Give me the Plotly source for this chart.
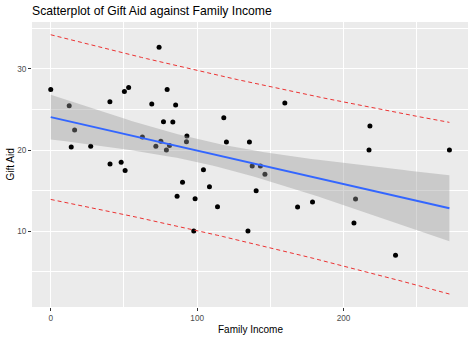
import numpy as np
import plotly.graph_objects as go

# Data (family income in $1000s, gift aid in $1000s)
family_income = [0.0, 12.6, 16.3, 14.0, 27.3, 40.4, 50.3, 53.2, 62.6, 69.0,
                 71.8, 74.0, 75.2, 77.0, 79.5, 79.0, 81.1, 83.4, 85.3, 93.0,
                 92.7, 118.2, 120.0, 135.7, 159.9, 40.5, 48.1, 50.8, 104.3, 137.6,
                 143.2, 146.3, 90.0, 108.4, 140.3, 86.3, 98.6, 113.9, 168.6, 178.8,
                 208.2, 207.1, 235.5, 218.0, 217.4, 272.3, 97.7, 134.7]
gift_aid = [27.47, 25.47, 22.47, 20.37, 20.47, 25.96, 27.22, 27.72, 21.6, 25.68,
            20.47, 32.68, 21.07, 23.5, 27.47, 20.0, 20.56, 23.46, 25.56, 21.72,
            21.01, 23.99, 20.99, 20.99, 25.8, 18.27, 18.49, 17.47, 17.56, 18.02,
            18.02, 17.0, 16.01, 15.47, 14.98, 14.28, 13.99, 13.0, 12.96, 13.58,
            13.95, 10.99, 7.0, 22.96, 20.0, 20.0, 10.0, 10.0]

x = np.array(family_income)
y = np.array(gift_aid)
n = len(x)
b1, b0 = np.polyfit(x, y, 1)
resid = y - (b0 + b1 * x)
s = np.sqrt(np.sum(resid ** 2) / (n - 2))
xbar = x.mean()
sxx = np.sum((x - xbar) ** 2)
tq = 2.0129  # t quantile 0.975, df = 46

grid = np.linspace(x.min(), x.max(), 80)
fit = b0 + b1 * grid
se_fit = s * np.sqrt(1 / n + (grid - xbar) ** 2 / sxx)
se_pred = s * np.sqrt(1 + 1 / n + (grid - xbar) ** 2 / sxx)
ci_lo, ci_hi = fit - tq * se_fit, fit + tq * se_fit
pi_lo, pi_hi = fit - tq * se_pred, fit + tq * se_pred

fig = go.Figure()
fig.add_trace(go.Scatter(x=x, y=y, mode="markers",
                         marker=dict(color="black", size=5, line=dict(width=0)),
                         showlegend=False, hoverinfo="skip"))
fig.add_trace(go.Scatter(x=np.concatenate([grid, grid[::-1]]),
                         y=np.concatenate([ci_hi, ci_lo[::-1]]),
                         fill="toself", fillcolor="rgba(153,153,153,0.4)",
                         mode="lines", line=dict(width=0), showlegend=False,
                         hoverinfo="skip"))
fig.add_trace(go.Scatter(x=grid, y=fit, mode="lines",
                         line=dict(color="#3366FF", width=2), showlegend=False))
for band in (pi_hi, pi_lo):
    fig.add_trace(go.Scatter(x=grid, y=band, mode="lines",
                             line=dict(color="rgb(235,50,50)", width=1, dash="4px,3px"),
                             showlegend=False))

W, H = 474, 338
L, R, T, B = 32, 6, 22, 31
axis_common = dict(showline=False, zeroline=False, ticks="outside", ticklen=3,
                   tickcolor="#333333", tickwidth=1,
                   tickfont=dict(family="Liberation Sans, Arial", size=8.2, color="#4D4D4D"),
                   showgrid=True, gridcolor="white", gridwidth=1.1)
fig.update_xaxes(range=[-12.8, 285.0], tickmode="linear", tick0=0, dtick=100,
                 minor=dict(dtick=50, tick0=0, showgrid=True, gridcolor="white", gridwidth=0.5, ticks=""),
                 **axis_common)
fig.update_yaxes(range=[0.62, 35.8], tickmode="linear", tick0=0, dtick=10,
                 minor=dict(dtick=5, tick0=0, showgrid=True, gridcolor="white", gridwidth=0.5, ticks=""),
                 **axis_common)

pw, ph = W - L - R, H - T - B
fig.update_layout(
    width=W, height=H,
    margin=dict(l=L, r=R, t=T, b=B, pad=0),
    paper_bgcolor="white", plot_bgcolor="#EBEBEB",
    font=dict(family="Liberation Sans, Arial"),
    title=dict(text="Scatterplot of Gift Aid against Family Income",
               x=L / W, xanchor="left", xref="container",
               y=1 - 10.5 / H, yanchor="middle", yref="container",
               font=dict(size=12.2, color="black")),
    annotations=[
        dict(text="Gift Aid", xref="paper", yref="paper",
             x=(10 - L) / pw, y=0.5, xanchor="center", yanchor="middle",
             textangle=-90, showarrow=False, font=dict(size=10, color="black")),
        dict(text="Family Income", xref="paper", yref="paper",
             x=0.5, y=-(329 - (H - B)) / ph, xanchor="center", yanchor="middle",
             showarrow=False, font=dict(size=10, color="black")),
    ],
)
fig.write_html("out.html")
